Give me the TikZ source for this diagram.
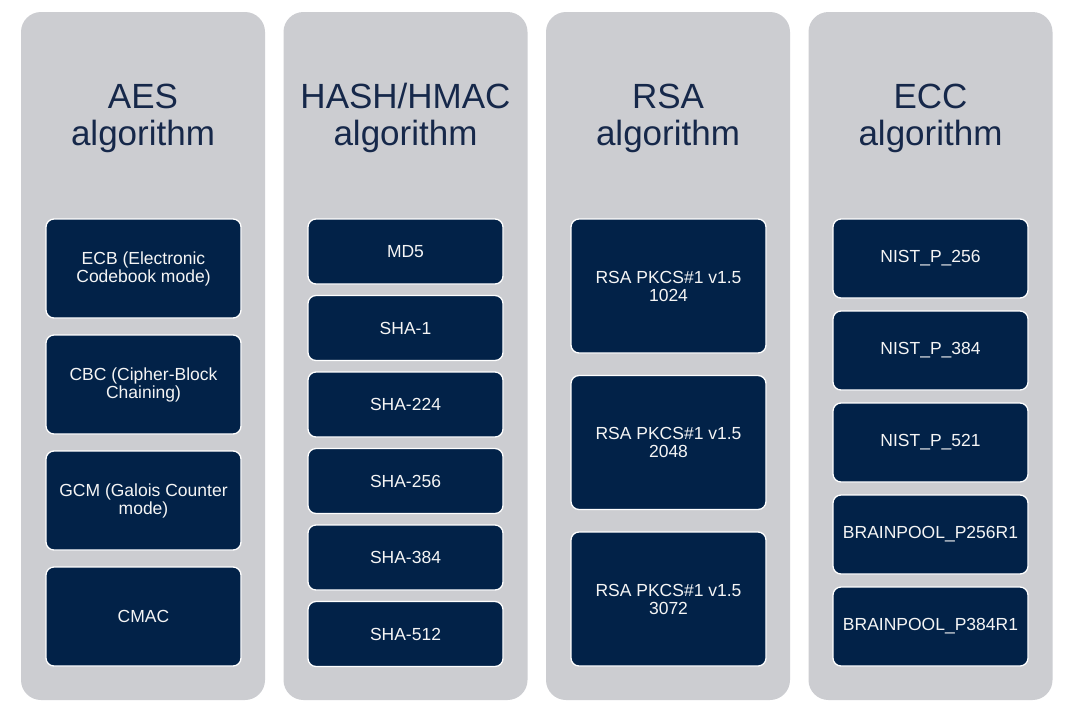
\documentclass[tikz,border=0pt]{standalone}
\usepackage{fontspec}
\setmainfont{Liberation Sans}
\definecolor{panelgray}{RGB}{204,205,209}
\definecolor{navy}{RGB}{2,34,72}
\definecolor{titlenavy}{RGB}{22,40,74}
\definecolor{boxtext}{RGB}{245,245,245}
\tikzset{
  panel/.style={fill=panelgray, draw=none, rounded corners=20pt, minimum width=244pt, minimum height=688pt, inner sep=0pt},
  title/.style={text=titlenavy, font=\fontsize{35}{37}\selectfont, align=center, inner sep=0pt},
  algbox/.style={fill=navy, draw=white, line width=1.3pt, rounded corners=8pt, minimum width=195pt, text=boxtext, font=\fontsize{17.5}{18}\selectfont, align=center, inner sep=0pt},
}
\begin{document}
\begin{tikzpicture}[x=1pt,y=-1pt]
\useasboundingbox (0,0) rectangle (1078,718);
\fill[white] (0,0) rectangle (1078,718);
% panels
\node[panel] (p1) at (143,356) {};
\node[panel] (p2) at (405.5,356) {};
\node[panel] (p3) at (668,356) {};
\node[panel] (p4) at (930.5,356) {};
% titles
\node[title] (t1) at (143,118) {AES\\algorithm};
\node[title] (t2) at (405.5,118) {HASH/HMAC\\algorithm};
\node[title] (t3) at (668,118) {RSA\\algorithm};
\node[title] (t4) at (930.5,118) {ECC\\algorithm};
% AES boxes
\tikzset{aes/.style={algbox, minimum height=99pt}}
\node[aes] (ecb) at (143.5,268.5) {ECB (Electronic\\Codebook mode)};
\node[aes] (cbc) at (143.5,384.5) {CBC (Cipher-Block\\Chaining)};
\node[aes] (gcm) at (143.5,500.5) {GCM (Galois Counter\\mode)};
\node[aes] (cmac) at (143.5,616.5) {CMAC};
% HASH boxes
\tikzset{hash/.style={algbox, minimum height=65pt}}
\node[hash] (md5) at (405.5,251.5) {MD5};
\node[hash] (sha1) at (405.5,328) {SHA-1};
\node[hash] (sha224) at (405.5,404.5) {SHA-224};
\node[hash] (sha256) at (405.5,481) {SHA-256};
\node[hash] (sha384) at (405.5,557.5) {SHA-384};
\node[hash] (sha512) at (405.5,634) {SHA-512};
% RSA boxes
\tikzset{rsa/.style={algbox, minimum height=134pt}}
\node[rsa] (rsa1) at (668.5,286) {RSA PKCS\#1 v1.5\\1024};
\node[rsa] (rsa2) at (668.5,442.5) {RSA PKCS\#1 v1.5\\2048};
\node[rsa] (rsa3) at (668.5,599) {RSA PKCS\#1 v1.5\\3072};
% ECC boxes
\tikzset{ecc/.style={algbox, minimum height=79pt}}
\node[ecc] (p256) at (930.5,258.5) {NIST\_P\_256};
\node[ecc] (p384) at (930.5,350.5) {NIST\_P\_384};
\node[ecc] (p521) at (930.5,442.5) {NIST\_P\_521};
\node[ecc] (bp256) at (930.5,534.5) {BRAINPOOL\_P256R1};
\node[ecc] (bp384) at (930.5,626.5) {BRAINPOOL\_P384R1};
\end{tikzpicture}
\end{document}
